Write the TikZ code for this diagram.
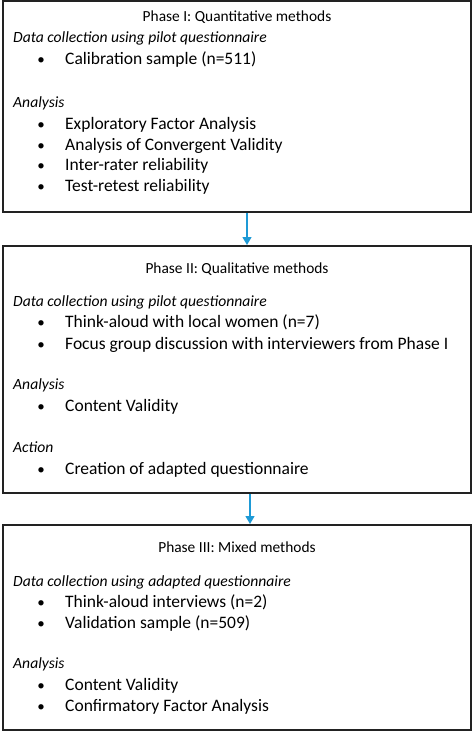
\documentclass[tikz,border=0pt]{standalone}
\usepackage{fontspec}
\setmainfont{Carlito}
\usetikzlibrary{arrows.meta}
\definecolor{arrowblue}{HTML}{1E9AD6}
\definecolor{edge}{HTML}{222222}
\tikzset{
  phasebox/.style={draw=edge, line width=2pt, minimum width=468pt, inner sep=0pt},
  ttl/.style={anchor=center, inner sep=0pt, font=\fontsize{15.4}{18}\selectfont, text height=11pt, text depth=3pt},
  hdr/.style={anchor=west, inner sep=0pt, font=\fontsize{15.6}{18}\selectfont\itshape, text height=11pt, text depth=3pt},
  itm/.style={anchor=west, inner sep=0pt, font=\fontsize{17.5}{20}\selectfont, text height=12pt, text depth=4pt},
  bul/.style={anchor=center, inner sep=0pt, font=\fontsize{15}{19}\selectfont, text height=11pt, text depth=3pt},
  flow/.style={draw=arrowblue, line width=1.3pt, -{Triangle[width=9pt,length=8pt]}}
}
\begin{document}
\begin{tikzpicture}[x=1pt,y=-1pt]
\useasboundingbox (0,0) rectangle (474,732);
% boxes
\node[phasebox, minimum height=211pt] (p1) at (237,106.5) {};
\node[phasebox, minimum height=247pt] (p2) at (237,369.5) {};
\node[phasebox, minimum height=205pt] (p3) at (237,627.5) {};
% phase I
\node[ttl] (t1) at (237,17) {Phase I: Quantitative methods};
\node[hdr] (h11) at (13,38) {Data collection using pilot questionnaire};
\node[bul] (b11) at (41,60) {•};
\node[itm] (i11) at (65,60) {Calibration sample (n=511)};
\node[hdr] (h12) at (13,103) {Analysis};
\node[bul] (b12) at (41,125) {•};
\node[itm] (i12) at (65,125) {Exploratory Factor Analysis};
\node[bul] (b13) at (41,146) {•};
\node[itm] (i13) at (65,146) {Analysis of Convergent Validity};
\node[bul] (b14) at (41,166) {•};
\node[itm] (i14) at (65,166) {Inter-rater reliability};
\node[bul] (b15) at (41,187) {•};
\node[itm] (i15) at (65,187) {Test-retest reliability};
% phase II
\node[ttl] (t2) at (237,269) {Phase II: Qualitative methods};
\node[hdr] (h21) at (13,302) {Data collection using pilot questionnaire};
\node[bul] (b21) at (41,323) {•};
\node[itm] (i21) at (65,323) {Think-aloud with local women (n=7)};
\node[bul] (b22) at (41,345) {•};
\node[itm] (i22) at (65,345) {Focus group discussion with interviewers from Phase I};
\node[hdr] (h22) at (13,385) {Analysis};
\node[bul] (b23) at (41,407) {•};
\node[itm] (i23) at (65,407) {Content Validity};
\node[hdr] (h23) at (13,448) {Action};
\node[bul] (b24) at (41,470) {•};
\node[itm] (i24) at (65,470) {Creation of adapted questionnaire};
% phase III
\node[ttl] (t3) at (237,548) {Phase III: Mixed methods};
\node[hdr] (h31) at (13,582) {Data collection using adapted questionnaire};
\node[bul] (b31) at (41,603) {•};
\node[itm] (i31) at (65,603) {Think-aloud interviews (n=2)};
\node[bul] (b32) at (41,624) {•};
\node[itm] (i32) at (65,624) {Validation sample (n=509)};
\node[hdr] (h32) at (13,664) {Analysis};
\node[bul] (b33) at (41,686) {•};
\node[itm] (i33) at (65,686) {Content Validity};
\node[bul] (b34) at (41,707) {•};
\node[itm] (i34) at (65,707) {Confirmatory Factor Analysis};
% arrows
\draw[flow] ([xshift=10pt]p1.south) -- ([xshift=10pt]p2.north);
\draw[flow] ([xshift=13pt]p2.south) -- ([xshift=13pt]p3.north);
\end{tikzpicture}
\end{document}
